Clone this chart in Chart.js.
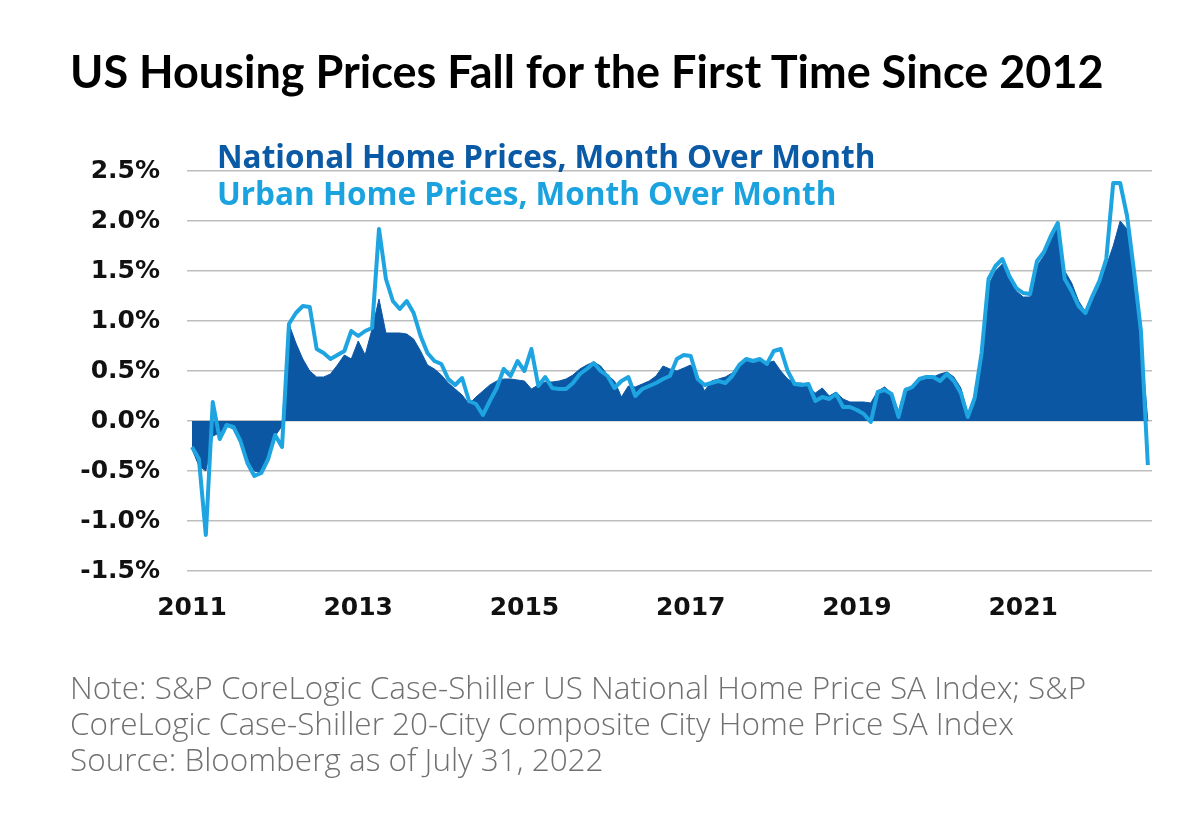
<!DOCTYPE html>
<html><head><meta charset="utf-8">
<script src="https://cdn.jsdelivr.net/npm/chart.js@4/dist/chart.umd.min.js"></script>
<style>
html,body{margin:0;padding:0;background:#fff;}
#wrap{position:relative;width:1186px;height:836px;overflow:hidden;background:#fff;}
#c{position:absolute;left:0;top:0;}
.t{position:absolute;white-space:nowrap;line-height:1;}
#title{left:70px;top:44px;font:700 45px Lato, sans-serif;color:#000;}
#legN{left:217px;top:134px;font:700 31.5px 'Open Sans', sans-serif;color:#0b5aa6;}
#legU{left:217px;top:171px;font:700 31.5px 'Open Sans', sans-serif;color:#1ba3df;}
#note{left:70px;top:669px;font:300 31.5px 'Open Sans', sans-serif;color:#707070;line-height:36px;}
</style></head><body>
<div id="wrap">
<canvas id="c" width="1186" height="836"></canvas>
<div id="title" class="t">US Housing Prices Fall for the First Time Since 2012</div>
<div id="legN" class="t">National Home Prices, Month Over Month</div>
<div id="legU" class="t">Urban Home Prices, Month Over Month</div>
<div id="note" class="t">Note: S&amp;P CoreLogic Case-Shiller US National Home Price SA Index; S&amp;P<br>CoreLogic Case-Shiller 20-City Composite City Home Price SA Index<br>Source: Bloomberg as of July 31, 2022</div>
</div>
<script>
// Monthly data, Jan 2011 .. Jul 2022 (month-over-month %)
const startYear = 2011;
const yearTickLabels = ['2011', '2013', '2015', '2017', '2019', '2021'];
const yTickValues = [-1.5, -1.0, -0.5, 0.0, 0.5, 1.0, 1.5, 2.0, 2.5];

const nationalMoM = [
  -0.28, -0.45, -0.50, -0.15, -0.12, -0.05, -0.08, -0.20, -0.38, -0.50, -0.52, -0.38,
  -0.15, -0.05, 0.97, 0.78, 0.62, 0.50, 0.44, 0.44, 0.47, 0.56, 0.66, 0.62,
  0.80, 0.66, 0.92, 1.22, 0.88, 0.88, 0.88, 0.87, 0.82, 0.70, 0.56, 0.52,
  0.46, 0.38, 0.32, 0.26, 0.17, 0.24, 0.30, 0.36, 0.40, 0.42, 0.42, 0.41,
  0.40, 0.32, 0.36, 0.39, 0.39, 0.40, 0.42, 0.46, 0.52, 0.56, 0.59, 0.55,
  0.46, 0.40, 0.24, 0.35, 0.34, 0.37, 0.40, 0.45, 0.55, 0.52, 0.50, 0.53,
  0.56, 0.45, 0.30, 0.40, 0.42, 0.44, 0.48, 0.57, 0.62, 0.58, 0.60, 0.58,
  0.60, 0.50, 0.42, 0.38, 0.38, 0.34, 0.28, 0.33, 0.25, 0.29, 0.22, 0.19,
  0.19, 0.19, 0.18, 0.30, 0.34, 0.28, 0.10, 0.33, 0.32, 0.40, 0.43, 0.44,
  0.47, 0.49, 0.44, 0.33, 0.08, 0.22, 0.66, 1.36, 1.50, 1.57, 1.42, 1.30,
  1.24, 1.24, 1.55, 1.65, 1.80, 1.94, 1.50, 1.38, 1.20, 1.09, 1.20, 1.35,
  1.55, 1.75, 2.00, 1.92, 1.45, 0.80, 0.00
];

const urbanMoM = [
  -0.26, -0.38, -1.14, 0.19, -0.18, -0.04, -0.06, -0.20, -0.42, -0.55, -0.52, -0.38,
  -0.14, -0.26, 0.97, 1.08, 1.15, 1.14, 0.72, 0.68, 0.62, 0.66, 0.70, 0.90,
  0.85, 0.90, 0.93, 1.92, 1.42, 1.20, 1.12, 1.20, 1.08, 0.85, 0.68, 0.60,
  0.57, 0.42, 0.36, 0.43, 0.20, 0.17, 0.06, 0.20, 0.33, 0.52, 0.45, 0.60,
  0.50, 0.72, 0.35, 0.44, 0.33, 0.32, 0.32, 0.38, 0.47, 0.52, 0.58, 0.50,
  0.45, 0.33, 0.40, 0.44, 0.25, 0.32, 0.35, 0.38, 0.42, 0.45, 0.62, 0.66,
  0.65, 0.42, 0.36, 0.38, 0.40, 0.38, 0.45, 0.56, 0.62, 0.60, 0.62, 0.57,
  0.70, 0.72, 0.50, 0.37, 0.36, 0.37, 0.20, 0.24, 0.22, 0.27, 0.14, 0.14,
  0.11, 0.07, -0.01, 0.29, 0.31, 0.27, 0.04, 0.31, 0.34, 0.42, 0.44, 0.44,
  0.40, 0.47, 0.40, 0.28, 0.04, 0.23, 0.68, 1.42, 1.55, 1.62, 1.45, 1.33,
  1.28, 1.27, 1.60, 1.69, 1.85, 1.98, 1.42, 1.30, 1.15, 1.08, 1.25, 1.40,
  1.62, 2.38, 2.38, 2.05, 1.50, 0.90, -0.44
];

const toPoints = arr => arr.map((v, i) => ({ x: i, y: v }));
const tickFont = { family: "'DejaVu Sans', sans-serif", size: 25, weight: 'bold' };

new Chart(document.getElementById('c'), {
  type: 'line',
  data: {
    datasets: [
      {
        label: 'Urban Home Prices, Month Over Month',
        data: toPoints(urbanMoM),
        borderColor: '#1ea4e0',
        borderWidth: 4,
        pointRadius: 0,
        fill: false,
        tension: 0,
        borderJoinStyle: 'round',
        order: 0
      },
      {
        label: 'National Home Prices, Month Over Month',
        data: toPoints(nationalMoM),
        borderColor: '#0b57a3',
        backgroundColor: '#0b57a3',
        borderWidth: 1,
        pointRadius: 0,
        fill: 'origin',
        tension: 0,
        order: 1
      }
    ]
  },
  options: {
    responsive: false,
    animation: false,
    layout: { padding: { top: 171, bottom: 205, left: 0, right: 34 } },
    plugins: { legend: { display: false }, tooltip: { enabled: false } },
    scales: {
      x: {
        type: 'linear',
        min: -0.72,
        max: 138.6,
        grid: { display: false },
        border: { display: false },
        afterBuildTicks: s => { s.ticks = yearTickLabels.map(y => ({ value: (Number(y) - startYear) * 12 })); },
        afterFit: s => { s.height = 60; },
        ticks: {
          autoSkip: false, maxRotation: 0, padding: 14, color: '#111',
          font: tickFont,
          callback: v => String(startYear + Math.round(v / 12))
        }
      },
      y: {
        min: -1.5,
        max: 2.5,
        afterBuildTicks: s => { s.ticks = yTickValues.map(v => ({ value: v })); },
        afterFit: s => { s.width = 187; },
        grid: { color: '#bdbdbd', lineWidth: 1.5, drawTicks: false },
        border: { display: false },
        ticks: {
          padding: 27, color: '#111', font: tickFont,
          callback: v => v.toFixed(1) + '%'
        }
      }
    }
  }
});
</script>
</body></html>
